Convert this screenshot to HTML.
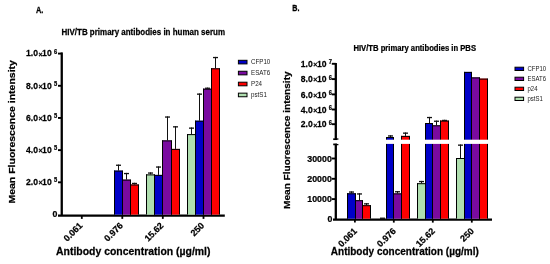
<!DOCTYPE html>
<html><head><meta charset="utf-8"><style>
html,body{margin:0;padding:0;background:#fff;}
svg{display:block;font-family:'Liberation Sans', Arial, sans-serif;}
text[font-weight="bold"]{stroke:#000;stroke-width:0.22px;}
</style></head><body>
<svg width="550" height="264" viewBox="0 0 550 264">
<rect width="550" height="264" fill="#fff"/>
<text transform="translate(36.00,12.90) scale(1,1.16)" font-size="7.4" font-weight="bold" text-anchor="start" fill="#000" >A.</text>
<text transform="translate(61.50,35.30) scale(1,1.16)" font-size="8.0" font-weight="bold" text-anchor="start" fill="#000" textLength="163.5" lengthAdjust="spacingAndGlyphs">HIV/TB primary antibodies in human serum</text>
<text transform="translate(15.2,203.6) rotate(-90)" font-size="9" font-weight="bold" textLength="143.5" lengthAdjust="spacingAndGlyphs">Mean Fluorescence intensity</text>
<line x1="61.75" y1="52.4" x2="61.75" y2="215.6" stroke="#000" stroke-width="2.3"/>
<line x1="58" y1="215.6" x2="224.8" y2="215.6" stroke="#000" stroke-width="2.2"/>
<line x1="58" y1="53.60" x2="61.75" y2="53.60" stroke="#000" stroke-width="1.9"/>
<text transform="translate(26.00,56.40) scale(1,1.15)" font-size="8.6" font-weight="bold" text-anchor="start" fill="#000" textLength="12.0" lengthAdjust="spacing">1.0</text>
<text transform="translate(38.50,56.60) scale(1,1.1)" font-size="7" font-weight="bold" text-anchor="start" fill="#000" >×</text>
<text transform="translate(42.10,56.40) scale(1,1.15)" font-size="8.6" font-weight="bold" text-anchor="start" fill="#000" textLength="9.6" lengthAdjust="spacing">10</text>
<text transform="translate(54.00,53.70) scale(1,1.1)" font-size="5.8" font-weight="bold" text-anchor="start" fill="#000" >6</text>
<line x1="58" y1="85.78" x2="61.75" y2="85.78" stroke="#000" stroke-width="1.9"/>
<text transform="translate(26.00,88.58) scale(1,1.15)" font-size="8.6" font-weight="bold" text-anchor="start" fill="#000" textLength="12.0" lengthAdjust="spacing">8.0</text>
<text transform="translate(38.50,88.78) scale(1,1.1)" font-size="7" font-weight="bold" text-anchor="start" fill="#000" >×</text>
<text transform="translate(42.10,88.58) scale(1,1.15)" font-size="8.6" font-weight="bold" text-anchor="start" fill="#000" textLength="9.6" lengthAdjust="spacing">10</text>
<text transform="translate(54.00,85.88) scale(1,1.1)" font-size="5.8" font-weight="bold" text-anchor="start" fill="#000" >5</text>
<line x1="58" y1="117.96" x2="61.75" y2="117.96" stroke="#000" stroke-width="1.9"/>
<text transform="translate(26.00,120.76) scale(1,1.15)" font-size="8.6" font-weight="bold" text-anchor="start" fill="#000" textLength="12.0" lengthAdjust="spacing">6.0</text>
<text transform="translate(38.50,120.96) scale(1,1.1)" font-size="7" font-weight="bold" text-anchor="start" fill="#000" >×</text>
<text transform="translate(42.10,120.76) scale(1,1.15)" font-size="8.6" font-weight="bold" text-anchor="start" fill="#000" textLength="9.6" lengthAdjust="spacing">10</text>
<text transform="translate(54.00,118.06) scale(1,1.1)" font-size="5.8" font-weight="bold" text-anchor="start" fill="#000" >5</text>
<line x1="58" y1="150.14" x2="61.75" y2="150.14" stroke="#000" stroke-width="1.9"/>
<text transform="translate(26.00,152.94) scale(1,1.15)" font-size="8.6" font-weight="bold" text-anchor="start" fill="#000" textLength="12.0" lengthAdjust="spacing">4.0</text>
<text transform="translate(38.50,153.14) scale(1,1.1)" font-size="7" font-weight="bold" text-anchor="start" fill="#000" >×</text>
<text transform="translate(42.10,152.94) scale(1,1.15)" font-size="8.6" font-weight="bold" text-anchor="start" fill="#000" textLength="9.6" lengthAdjust="spacing">10</text>
<text transform="translate(54.00,150.24) scale(1,1.1)" font-size="5.8" font-weight="bold" text-anchor="start" fill="#000" >5</text>
<line x1="58" y1="182.32" x2="61.75" y2="182.32" stroke="#000" stroke-width="1.9"/>
<text transform="translate(26.00,185.12) scale(1,1.15)" font-size="8.6" font-weight="bold" text-anchor="start" fill="#000" textLength="12.0" lengthAdjust="spacing">2.0</text>
<text transform="translate(38.50,185.32) scale(1,1.1)" font-size="7" font-weight="bold" text-anchor="start" fill="#000" >×</text>
<text transform="translate(42.10,185.12) scale(1,1.15)" font-size="8.6" font-weight="bold" text-anchor="start" fill="#000" textLength="9.6" lengthAdjust="spacing">10</text>
<text transform="translate(54.00,182.42) scale(1,1.1)" font-size="5.8" font-weight="bold" text-anchor="start" fill="#000" >5</text>
<text transform="translate(57.40,217.20) scale(1,1.04)" font-size="8.8" font-weight="bold" text-anchor="end" fill="#000" >0</text>
<line x1="81.8" y1="215.6" x2="81.8" y2="218.9" stroke="#000" stroke-width="1.8"/>
<line x1="122.3" y1="215.6" x2="122.3" y2="218.9" stroke="#000" stroke-width="1.8"/>
<line x1="162.8" y1="215.6" x2="162.8" y2="218.9" stroke="#000" stroke-width="1.8"/>
<line x1="203.5" y1="215.6" x2="203.5" y2="218.9" stroke="#000" stroke-width="1.8"/>
<rect x="114" y="170.60" width="8" height="44.00" fill="#0000c8"/>
<rect x="122" y="179.60" width="8" height="35.00" fill="#7a0aa0"/>
<rect x="130" y="184.50" width="8" height="30.10" fill="#ff0000"/>
<rect x="114" y="170.60" width="1" height="44.00" fill="#000"/>
<rect x="122" y="170.60" width="1" height="44.00" fill="#000"/>
<rect x="114" y="170.60" width="9" height="1" fill="#000"/>
<rect x="122" y="179.60" width="1" height="35.00" fill="#000"/>
<rect x="130" y="179.60" width="1" height="35.00" fill="#000"/>
<rect x="122" y="179.60" width="9" height="1" fill="#000"/>
<rect x="130" y="184.50" width="1" height="30.10" fill="#000"/>
<rect x="138" y="184.50" width="1" height="30.10" fill="#000"/>
<rect x="130" y="184.50" width="9" height="1" fill="#000"/>
<rect x="118" y="164.60" width="1" height="6.00" fill="#111"/>
<rect x="116" y="164.60" width="5" height="1.3" fill="#111"/>
<rect x="126" y="172.90" width="1" height="6.70" fill="#111"/>
<rect x="124" y="172.90" width="5" height="1.3" fill="#111"/>
<rect x="134" y="182.80" width="1" height="1.70" fill="#111"/>
<rect x="132" y="182.80" width="5" height="1.3" fill="#111"/>
<rect x="146" y="174.40" width="8" height="40.20" fill="#afdeaf"/>
<rect x="154" y="174.90" width="8" height="39.70" fill="#0000c8"/>
<rect x="162" y="140.40" width="9" height="74.20" fill="#7a0aa0"/>
<rect x="171" y="148.90" width="8" height="65.70" fill="#ff0000"/>
<rect x="146" y="174.40" width="1" height="40.20" fill="#000"/>
<rect x="154" y="174.40" width="1" height="40.20" fill="#000"/>
<rect x="146" y="174.40" width="9" height="1" fill="#000"/>
<rect x="154" y="174.90" width="1" height="39.70" fill="#000"/>
<rect x="162" y="174.90" width="1" height="39.70" fill="#000"/>
<rect x="154" y="174.90" width="9" height="1" fill="#000"/>
<rect x="162" y="140.40" width="1" height="74.20" fill="#000"/>
<rect x="171" y="140.40" width="1" height="74.20" fill="#000"/>
<rect x="162" y="140.40" width="10" height="1" fill="#000"/>
<rect x="171" y="148.90" width="1" height="65.70" fill="#000"/>
<rect x="179" y="148.90" width="1" height="65.70" fill="#000"/>
<rect x="171" y="148.90" width="9" height="1" fill="#000"/>
<rect x="150" y="172.40" width="1" height="2.00" fill="#111"/>
<rect x="148" y="172.40" width="5" height="1.3" fill="#111"/>
<rect x="158" y="166.40" width="1" height="8.50" fill="#111"/>
<rect x="156" y="166.40" width="5" height="1.3" fill="#111"/>
<rect x="167" y="116.40" width="1" height="24.00" fill="#111"/>
<rect x="165" y="116.40" width="5" height="1.3" fill="#111"/>
<rect x="175" y="126.20" width="1" height="22.70" fill="#111"/>
<rect x="173" y="126.20" width="5" height="1.3" fill="#111"/>
<rect x="187" y="134.10" width="8" height="80.50" fill="#afdeaf"/>
<rect x="195" y="120.70" width="8" height="93.90" fill="#0000c8"/>
<rect x="203" y="88.70" width="8" height="125.90" fill="#7a0aa0"/>
<rect x="211" y="68.30" width="8" height="146.30" fill="#ff0000"/>
<rect x="187" y="134.10" width="1" height="80.50" fill="#000"/>
<rect x="195" y="134.10" width="1" height="80.50" fill="#000"/>
<rect x="187" y="134.10" width="9" height="1" fill="#000"/>
<rect x="195" y="120.70" width="1" height="93.90" fill="#000"/>
<rect x="203" y="120.70" width="1" height="93.90" fill="#000"/>
<rect x="195" y="120.70" width="9" height="1" fill="#000"/>
<rect x="203" y="88.70" width="1" height="125.90" fill="#000"/>
<rect x="211" y="88.70" width="1" height="125.90" fill="#000"/>
<rect x="203" y="88.70" width="9" height="1" fill="#000"/>
<rect x="211" y="68.30" width="1" height="146.30" fill="#000"/>
<rect x="219" y="68.30" width="1" height="146.30" fill="#000"/>
<rect x="211" y="68.30" width="9" height="1" fill="#000"/>
<rect x="191" y="127.50" width="1" height="6.60" fill="#111"/>
<rect x="189" y="127.50" width="5" height="1.3" fill="#111"/>
<rect x="199" y="93.50" width="1" height="27.20" fill="#111"/>
<rect x="197" y="93.50" width="5" height="1.3" fill="#111"/>
<rect x="207" y="87.60" width="1" height="1.10" fill="#111"/>
<rect x="205" y="87.60" width="5" height="1.3" fill="#111"/>
<rect x="215" y="56.90" width="1" height="11.40" fill="#111"/>
<rect x="213" y="56.90" width="5" height="1.3" fill="#111"/>
<text transform="translate(83.10,226.10) rotate(-45)" font-size="9" font-weight="bold" text-anchor="end">0.061</text>
<text transform="translate(123.60,226.10) rotate(-45)" font-size="9" font-weight="bold" text-anchor="end">0.976</text>
<text transform="translate(164.10,226.10) rotate(-45)" font-size="9" font-weight="bold" text-anchor="end">15.62</text>
<text transform="translate(204.80,226.10) rotate(-45)" font-size="9" font-weight="bold" text-anchor="end">250</text>
<text transform="translate(56.00,254.60) scale(1,1.16)" font-size="9.6" font-weight="bold" text-anchor="start" fill="#000" textLength="154.5" lengthAdjust="spacingAndGlyphs">Antibody concentration (µg/ml)</text>
<rect x="238.4" y="60.30" width="8.6" height="3.6" fill="#0000c8" stroke="#000" stroke-width="1"/>
<text transform="translate(251.00,64.20) scale(1,1.16)" font-size="6.2" font-weight="normal" text-anchor="start" fill="#1a1a1a" >CFP10</text>
<rect x="238.4" y="71.25" width="8.6" height="3.6" fill="#7a0aa0" stroke="#000" stroke-width="1"/>
<text transform="translate(251.00,75.15) scale(1,1.16)" font-size="6.2" font-weight="normal" text-anchor="start" fill="#1a1a1a" >ESAT6</text>
<rect x="238.4" y="82.20" width="8.6" height="3.6" fill="#ff0000" stroke="#000" stroke-width="1"/>
<text transform="translate(251.00,86.10) scale(1,1.16)" font-size="6.2" font-weight="normal" text-anchor="start" fill="#1a1a1a" >P24</text>
<rect x="238.4" y="93.15" width="8.6" height="3.6" fill="#afdeaf" stroke="#000" stroke-width="1"/>
<text transform="translate(251.00,97.05) scale(1,1.16)" font-size="6.2" font-weight="normal" text-anchor="start" fill="#1a1a1a" >pstS1</text>
<text transform="translate(292.30,11.40) scale(1,1.16)" font-size="7.2" font-weight="bold" text-anchor="start" fill="#000" >B.</text>
<text transform="translate(353.40,50.60) scale(1,1.07)" font-size="7.75" font-weight="bold" text-anchor="start" fill="#000" textLength="122.6" lengthAdjust="spacingAndGlyphs">HIV/TB primary antibodies in PBS</text>
<text transform="translate(289.9,208.9) rotate(-90)" font-size="9" font-weight="bold" textLength="137.5" lengthAdjust="spacingAndGlyphs">Mean Fluorescence intensity</text>
<line x1="335.8" y1="63.0" x2="335.8" y2="139.8" stroke="#000" stroke-width="2.3"/>
<line x1="335.8" y1="143.8" x2="335.8" y2="219.65" stroke="#000" stroke-width="2.3"/>
<line x1="333.2" y1="139.2" x2="338.40000000000003" y2="139.2" stroke="#000" stroke-width="1.7"/>
<line x1="333.2" y1="144.4" x2="338.40000000000003" y2="144.4" stroke="#000" stroke-width="1.7"/>
<line x1="333" y1="219.65" x2="492" y2="219.65" stroke="#000" stroke-width="2.2"/>
<line x1="331.8" y1="63.80" x2="335.8" y2="63.80" stroke="#000" stroke-width="1.9"/>
<text transform="translate(300.80,66.90) scale(1,1.15)" font-size="8.6" font-weight="bold" text-anchor="start" fill="#000" textLength="12.0" lengthAdjust="spacing">1.0</text>
<text transform="translate(313.30,67.10) scale(1,1.1)" font-size="7" font-weight="bold" text-anchor="start" fill="#000" >×</text>
<text transform="translate(316.90,66.90) scale(1,1.15)" font-size="8.6" font-weight="bold" text-anchor="start" fill="#000" textLength="9.6" lengthAdjust="spacing">10</text>
<text transform="translate(328.80,64.20) scale(1,1.1)" font-size="5.8" font-weight="bold" text-anchor="start" fill="#000" >7</text>
<line x1="331.8" y1="79.10" x2="335.8" y2="79.10" stroke="#000" stroke-width="1.9"/>
<text transform="translate(300.80,82.20) scale(1,1.15)" font-size="8.6" font-weight="bold" text-anchor="start" fill="#000" textLength="12.0" lengthAdjust="spacing">8.0</text>
<text transform="translate(313.30,82.40) scale(1,1.1)" font-size="7" font-weight="bold" text-anchor="start" fill="#000" >×</text>
<text transform="translate(316.90,82.20) scale(1,1.15)" font-size="8.6" font-weight="bold" text-anchor="start" fill="#000" textLength="9.6" lengthAdjust="spacing">10</text>
<text transform="translate(328.80,79.50) scale(1,1.1)" font-size="5.8" font-weight="bold" text-anchor="start" fill="#000" >6</text>
<line x1="331.8" y1="94.40" x2="335.8" y2="94.40" stroke="#000" stroke-width="1.9"/>
<text transform="translate(300.80,97.50) scale(1,1.15)" font-size="8.6" font-weight="bold" text-anchor="start" fill="#000" textLength="12.0" lengthAdjust="spacing">6.0</text>
<text transform="translate(313.30,97.70) scale(1,1.1)" font-size="7" font-weight="bold" text-anchor="start" fill="#000" >×</text>
<text transform="translate(316.90,97.50) scale(1,1.15)" font-size="8.6" font-weight="bold" text-anchor="start" fill="#000" textLength="9.6" lengthAdjust="spacing">10</text>
<text transform="translate(328.80,94.80) scale(1,1.1)" font-size="5.8" font-weight="bold" text-anchor="start" fill="#000" >6</text>
<line x1="331.8" y1="109.50" x2="335.8" y2="109.50" stroke="#000" stroke-width="1.9"/>
<text transform="translate(300.80,112.60) scale(1,1.15)" font-size="8.6" font-weight="bold" text-anchor="start" fill="#000" textLength="12.0" lengthAdjust="spacing">4.0</text>
<text transform="translate(313.30,112.80) scale(1,1.1)" font-size="7" font-weight="bold" text-anchor="start" fill="#000" >×</text>
<text transform="translate(316.90,112.60) scale(1,1.15)" font-size="8.6" font-weight="bold" text-anchor="start" fill="#000" textLength="9.6" lengthAdjust="spacing">10</text>
<text transform="translate(328.80,109.90) scale(1,1.1)" font-size="5.8" font-weight="bold" text-anchor="start" fill="#000" >6</text>
<line x1="331.8" y1="124.20" x2="335.8" y2="124.20" stroke="#000" stroke-width="1.9"/>
<text transform="translate(300.80,127.30) scale(1,1.15)" font-size="8.6" font-weight="bold" text-anchor="start" fill="#000" textLength="12.0" lengthAdjust="spacing">2.0</text>
<text transform="translate(313.30,127.50) scale(1,1.1)" font-size="7" font-weight="bold" text-anchor="start" fill="#000" >×</text>
<text transform="translate(316.90,127.30) scale(1,1.15)" font-size="8.6" font-weight="bold" text-anchor="start" fill="#000" textLength="9.6" lengthAdjust="spacing">10</text>
<text transform="translate(328.80,124.60) scale(1,1.1)" font-size="5.8" font-weight="bold" text-anchor="start" fill="#000" >6</text>
<line x1="331.8" y1="158.50" x2="335.8" y2="158.50" stroke="#000" stroke-width="1.9"/>
<text transform="translate(331.80,161.60) scale(1,1.04)" font-size="8.8" font-weight="bold" text-anchor="end" fill="#000" >30000</text>
<line x1="331.8" y1="178.80" x2="335.8" y2="178.80" stroke="#000" stroke-width="1.9"/>
<text transform="translate(331.80,181.90) scale(1,1.04)" font-size="8.8" font-weight="bold" text-anchor="end" fill="#000" >20000</text>
<line x1="331.8" y1="199.10" x2="335.8" y2="199.10" stroke="#000" stroke-width="1.9"/>
<text transform="translate(331.80,202.20) scale(1,1.04)" font-size="8.8" font-weight="bold" text-anchor="end" fill="#000" >10000</text>
<text transform="translate(332.30,221.90) scale(1,1.04)" font-size="8.8" font-weight="bold" text-anchor="end" fill="#000" >0</text>
<line x1="354.9" y1="219.65" x2="354.9" y2="222.6" stroke="#000" stroke-width="1.8"/>
<line x1="393.8" y1="219.65" x2="393.8" y2="222.6" stroke="#000" stroke-width="1.8"/>
<line x1="432.8" y1="219.65" x2="432.8" y2="222.6" stroke="#000" stroke-width="1.8"/>
<line x1="471.8" y1="219.65" x2="471.8" y2="222.6" stroke="#000" stroke-width="1.8"/>
<rect x="347" y="193.30" width="8" height="25.35" fill="#0000c8"/>
<rect x="355" y="200.20" width="7" height="18.45" fill="#7a0aa0"/>
<rect x="362" y="205.20" width="8" height="13.45" fill="#ff0000"/>
<rect x="347" y="193.30" width="1" height="25.35" fill="#000"/>
<rect x="355" y="193.30" width="1" height="25.35" fill="#000"/>
<rect x="347" y="193.30" width="9" height="1" fill="#000"/>
<rect x="355" y="200.20" width="1" height="18.45" fill="#000"/>
<rect x="362" y="200.20" width="1" height="18.45" fill="#000"/>
<rect x="355" y="200.20" width="8" height="1" fill="#000"/>
<rect x="362" y="205.20" width="1" height="13.45" fill="#000"/>
<rect x="370" y="205.20" width="1" height="13.45" fill="#000"/>
<rect x="362" y="205.20" width="9" height="1" fill="#000"/>
<rect x="351" y="191.40" width="1" height="1.90" fill="#111"/>
<rect x="349" y="191.40" width="5" height="1.3" fill="#111"/>
<rect x="359" y="193.30" width="1" height="6.90" fill="#111"/>
<rect x="357" y="193.30" width="5" height="1.3" fill="#111"/>
<rect x="366" y="203.20" width="1" height="2.00" fill="#111"/>
<rect x="364" y="203.20" width="5" height="1.3" fill="#111"/>
<rect x="386" y="137.00" width="7" height="81.65" fill="#0000c8"/>
<rect x="393" y="193.40" width="8" height="25.25" fill="#7a0aa0"/>
<rect x="401" y="135.90" width="8" height="82.75" fill="#ff0000"/>
<rect x="386" y="137.00" width="1" height="81.65" fill="#000"/>
<rect x="393" y="137.00" width="1" height="81.65" fill="#000"/>
<rect x="386" y="137.00" width="8" height="1" fill="#000"/>
<rect x="393" y="193.40" width="1" height="25.25" fill="#000"/>
<rect x="401" y="193.40" width="1" height="25.25" fill="#000"/>
<rect x="393" y="193.40" width="9" height="1" fill="#000"/>
<rect x="401" y="135.90" width="1" height="82.75" fill="#000"/>
<rect x="409" y="135.90" width="1" height="82.75" fill="#000"/>
<rect x="401" y="135.90" width="9" height="1" fill="#000"/>
<rect x="390" y="135.30" width="1" height="1.70" fill="#111"/>
<rect x="388" y="135.30" width="5" height="1.3" fill="#111"/>
<rect x="397" y="191.10" width="1" height="2.30" fill="#111"/>
<rect x="395" y="191.10" width="5" height="1.3" fill="#111"/>
<rect x="405" y="132.50" width="1" height="3.40" fill="#111"/>
<rect x="403" y="132.50" width="5" height="1.3" fill="#111"/>
<rect x="417" y="183.20" width="8" height="35.45" fill="#afdeaf"/>
<rect x="425" y="123.00" width="7" height="95.65" fill="#0000c8"/>
<rect x="432" y="125.30" width="8" height="93.35" fill="#7a0aa0"/>
<rect x="440" y="120.60" width="8" height="98.05" fill="#ff0000"/>
<rect x="417" y="183.20" width="1" height="35.45" fill="#000"/>
<rect x="425" y="183.20" width="1" height="35.45" fill="#000"/>
<rect x="417" y="183.20" width="9" height="1" fill="#000"/>
<rect x="425" y="123.00" width="1" height="95.65" fill="#000"/>
<rect x="432" y="123.00" width="1" height="95.65" fill="#000"/>
<rect x="425" y="123.00" width="8" height="1" fill="#000"/>
<rect x="432" y="125.30" width="1" height="93.35" fill="#000"/>
<rect x="440" y="125.30" width="1" height="93.35" fill="#000"/>
<rect x="432" y="125.30" width="9" height="1" fill="#000"/>
<rect x="440" y="120.60" width="1" height="98.05" fill="#000"/>
<rect x="448" y="120.60" width="1" height="98.05" fill="#000"/>
<rect x="440" y="120.60" width="9" height="1" fill="#000"/>
<rect x="421" y="180.90" width="1" height="2.30" fill="#111"/>
<rect x="419" y="180.90" width="5" height="1.3" fill="#111"/>
<rect x="429" y="116.90" width="1" height="6.10" fill="#111"/>
<rect x="427" y="116.90" width="5" height="1.3" fill="#111"/>
<rect x="436" y="120.60" width="1" height="4.70" fill="#111"/>
<rect x="434" y="120.60" width="5" height="1.3" fill="#111"/>
<rect x="444" y="119.80" width="1" height="0.80" fill="#111"/>
<rect x="442" y="119.80" width="5" height="1.3" fill="#111"/>
<rect x="456" y="158.00" width="8" height="60.65" fill="#afdeaf"/>
<rect x="464" y="71.90" width="7" height="146.75" fill="#0000c8"/>
<rect x="471" y="77.40" width="8" height="141.25" fill="#7a0aa0"/>
<rect x="479" y="78.60" width="8" height="140.05" fill="#ff0000"/>
<rect x="456" y="158.00" width="1" height="60.65" fill="#000"/>
<rect x="464" y="158.00" width="1" height="60.65" fill="#000"/>
<rect x="456" y="158.00" width="9" height="1" fill="#000"/>
<rect x="464" y="71.90" width="1" height="146.75" fill="#000"/>
<rect x="471" y="71.90" width="1" height="146.75" fill="#000"/>
<rect x="464" y="71.90" width="8" height="1" fill="#000"/>
<rect x="471" y="77.40" width="1" height="141.25" fill="#000"/>
<rect x="479" y="77.40" width="1" height="141.25" fill="#000"/>
<rect x="471" y="77.40" width="9" height="1" fill="#000"/>
<rect x="479" y="78.60" width="1" height="140.05" fill="#000"/>
<rect x="487" y="78.60" width="1" height="140.05" fill="#000"/>
<rect x="479" y="78.60" width="9" height="1" fill="#000"/>
<rect x="460" y="144.50" width="1" height="13.50" fill="#111"/>
<rect x="458" y="144.50" width="5" height="1.3" fill="#111"/>
<line x1="380" y1="218.2" x2="385" y2="218.2" stroke="#000" stroke-width="1.2"/>
<rect x="337.0" y="139.7" width="160" height="4.2" fill="#fff"/>
<text transform="translate(357.60,231.60) rotate(-45)" font-size="9" font-weight="bold" text-anchor="end">0.061</text>
<text transform="translate(396.50,231.60) rotate(-45)" font-size="9" font-weight="bold" text-anchor="end">0.976</text>
<text transform="translate(435.50,231.60) rotate(-45)" font-size="9" font-weight="bold" text-anchor="end">15.62</text>
<text transform="translate(474.50,231.60) rotate(-45)" font-size="9" font-weight="bold" text-anchor="end">250</text>
<text transform="translate(330.80,254.50) scale(1,1.16)" font-size="9.0" font-weight="bold" text-anchor="start" fill="#000" textLength="148" lengthAdjust="spacingAndGlyphs">Antibody concentration (µg/ml)</text>
<rect x="515.0" y="67.20" width="8.6" height="3.3" fill="#0000c8" stroke="#000" stroke-width="1"/>
<text transform="translate(527.50,70.70) scale(1,1.16)" font-size="6.0" font-weight="normal" text-anchor="start" fill="#1a1a1a" >CFP10</text>
<rect x="515.0" y="77.20" width="8.6" height="3.3" fill="#7a0aa0" stroke="#000" stroke-width="1"/>
<text transform="translate(527.50,80.70) scale(1,1.16)" font-size="6.0" font-weight="normal" text-anchor="start" fill="#1a1a1a" >ESAT6</text>
<rect x="515.0" y="87.20" width="8.6" height="3.3" fill="#ff0000" stroke="#000" stroke-width="1"/>
<text transform="translate(527.50,90.70) scale(1,1.16)" font-size="6.0" font-weight="normal" text-anchor="start" fill="#1a1a1a" >p24</text>
<rect x="515.0" y="97.20" width="8.6" height="3.3" fill="#afdeaf" stroke="#000" stroke-width="1"/>
<text transform="translate(527.50,100.70) scale(1,1.16)" font-size="6.0" font-weight="normal" text-anchor="start" fill="#1a1a1a" >pstS1</text>
</svg>
</body></html>
